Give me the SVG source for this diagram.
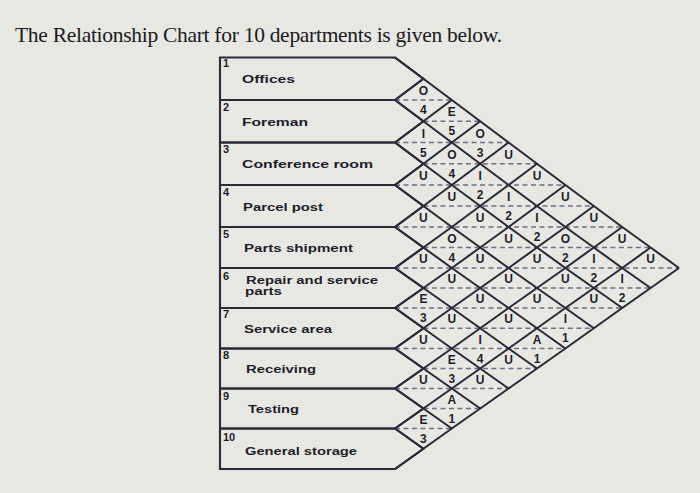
<svg xmlns="http://www.w3.org/2000/svg" width="700" height="493" viewBox="0 0 700 493">
<style>
.bg{fill:#e8e8e2}
.title{font-family:"Liberation Serif","Times New Roman",serif;font-size:21.5px;fill:#1a1a20}
.box{fill:none;stroke:#2a2a38;stroke-width:2.1;stroke-linejoin:miter}
.grid{fill:none;stroke:#2a2a38;stroke-width:2.1}
.dash{fill:none;stroke:#6e6e88;stroke-width:1.3;stroke-dasharray:5 3.5}
.num{font-family:"Liberation Sans",Arial,sans-serif;font-weight:bold;font-size:11px;fill:#1e1e2a}
.name{font-family:"Liberation Sans",Arial,sans-serif;font-weight:bold;font-size:11.5px;fill:#1e1e2a}
.l,.n{font-family:"Liberation Sans",Arial,sans-serif;font-weight:bold;font-size:12px;fill:#1e1e2a;text-anchor:middle}
</style>
<rect class="bg" x="0" y="0" width="700" height="493"/>
<text class="title" x="15" y="42" textLength="487">The Relationship Chart for 10 departments is given below.</text>

<g id="dept-1"><polygon class="box" points="220,57.5 395,57.5 423.4,78.75 395,100 220,100"/><text class="num" x="223" y="67">1</text><text class="name" x="242" y="83" textLength="53" lengthAdjust="spacingAndGlyphs">Offices</text></g>
<g id="dept-2"><polygon class="box" points="220,100 395,100 423.4,121.25 395,142.5 220,142.5"/><text class="num" x="223" y="111">2</text><text class="name" x="242" y="126" textLength="66" lengthAdjust="spacingAndGlyphs">Foreman</text></g>
<g id="dept-3"><polygon class="box" points="220,142.5 395,142.5 423.4,163.75 395,185 220,185"/><text class="num" x="223" y="153">3</text><text class="name" x="242" y="168" textLength="131" lengthAdjust="spacingAndGlyphs">Conference room</text></g>
<g id="dept-4"><polygon class="box" points="220,185 395,185 423.4,206 395,227 220,227"/><text class="num" x="223" y="196">4</text><text class="name" x="243" y="211" textLength="80" lengthAdjust="spacingAndGlyphs">Parcel post</text></g>
<g id="dept-5"><polygon class="box" points="220,227 395,227 423.4,247.5 395,268 220,268"/><text class="num" x="223" y="238">5</text><text class="name" x="244" y="252" textLength="109" lengthAdjust="spacingAndGlyphs">Parts shipment</text></g>
<g id="dept-6"><polygon class="box" points="220,268 395,268 423.4,288 395,308 220,308"/><text class="num" x="223" y="280">6</text><text class="name" x="246" y="284" textLength="132" lengthAdjust="spacingAndGlyphs">Repair and service</text><text class="name" x="245" y="295" textLength="37" lengthAdjust="spacingAndGlyphs">parts</text></g>
<g id="dept-7"><polygon class="box" points="220,308 395,308 423.4,328.25 395,348.5 220,348.5"/><text class="num" x="223" y="318">7</text><text class="name" x="244" y="333" textLength="88" lengthAdjust="spacingAndGlyphs">Service area</text></g>
<g id="dept-8"><polygon class="box" points="220,348.5 395,348.5 423.4,368.5 395,388.5 220,388.5"/><text class="num" x="223" y="359">8</text><text class="name" x="246" y="373" textLength="70" lengthAdjust="spacingAndGlyphs">Receiving</text></g>
<g id="dept-9"><polygon class="box" points="220,388.5 395,388.5 423.4,408.5 395,428.5 220,428.5"/><text class="num" x="223" y="400">9</text><text class="name" x="248" y="413" textLength="51" lengthAdjust="spacingAndGlyphs">Testing</text></g>
<g id="dept-10"><polygon class="box" points="220,428.5 395,428.5 423.4,448.75 395,469 220,469"/><text class="num" x="223" y="441">10</text><text class="name" x="245" y="455" textLength="112" lengthAdjust="spacingAndGlyphs">General storage</text></g>

<g id="connectors">
<path class="dash" d="M395 100H451.8M423.4 121.25H480.2M395 142.5H508.6M423.4 163.75H537M395 185H565.4M423.4 206H593.8M395 227H622.2M423.4 247.5H650.6M395 268H679M423.4 288H650.6M395 308H622.2M423.4 328.25H593.8M395 348.5H565.4M423.4 368.5H537M395 388.5H508.6M423.4 408.5H480.2M395 428.5H451.8"/>
<polyline class="grid" points="395,57.5 423.4,78.75 451.8,100 480.2,121.25 508.6,142.5 537,163.75 565.4,185 593.8,206 622.2,227 650.6,247.5 679,268"/>
<polyline class="grid" points="395,100 423.4,121.25 451.8,142.5 480.2,163.75 508.6,185 537,206 565.4,227 593.8,247.5 622.2,268 650.6,288"/>
<polyline class="grid" points="395,142.5 423.4,163.75 451.8,185 480.2,206 508.6,227 537,247.5 565.4,268 593.8,288 622.2,308"/>
<polyline class="grid" points="395,185 423.4,206 451.8,227 480.2,247.5 508.6,268 537,288 565.4,308 593.8,328.25"/>
<polyline class="grid" points="395,227 423.4,247.5 451.8,268 480.2,288 508.6,308 537,328.25 565.4,348.5"/>
<polyline class="grid" points="395,268 423.4,288 451.8,308 480.2,328.25 508.6,348.5 537,368.5"/>
<polyline class="grid" points="395,308 423.4,328.25 451.8,348.5 480.2,368.5 508.6,388.5"/>
<polyline class="grid" points="395,348.5 423.4,368.5 451.8,388.5 480.2,408.5"/>
<polyline class="grid" points="395,388.5 423.4,408.5 451.8,428.5"/>
<polyline class="grid" points="395,428.5 423.4,448.75"/>
<polyline class="grid" points="395,100 423.4,78.75"/>
<polyline class="grid" points="395,142.5 423.4,121.25 451.8,100"/>
<polyline class="grid" points="395,185 423.4,163.75 451.8,142.5 480.2,121.25"/>
<polyline class="grid" points="395,227 423.4,206 451.8,185 480.2,163.75 508.6,142.5"/>
<polyline class="grid" points="395,268 423.4,247.5 451.8,227 480.2,206 508.6,185 537,163.75"/>
<polyline class="grid" points="395,308 423.4,288 451.8,268 480.2,247.5 508.6,227 537,206 565.4,185"/>
<polyline class="grid" points="395,348.5 423.4,328.25 451.8,308 480.2,288 508.6,268 537,247.5 565.4,227 593.8,206"/>
<polyline class="grid" points="395,388.5 423.4,368.5 451.8,348.5 480.2,328.25 508.6,308 537,288 565.4,268 593.8,247.5 622.2,227"/>
<polyline class="grid" points="395,428.5 423.4,408.5 451.8,388.5 480.2,368.5 508.6,348.5 537,328.25 565.4,308 593.8,288 622.2,268 650.6,247.5"/>
<polyline class="grid" points="395,469 423.4,448.75 451.8,428.5 480.2,408.5 508.6,388.5 537,368.5 565.4,348.5 593.8,328.25 622.2,308 650.6,288 679,268"/>
</g>

<g id="ratings">
<g id="r1-2" transform="translate(423.4,100)"><text class="l" y="-5">O</text><text class="n" y="14">4</text></g>
<g id="r2-3" transform="translate(423.4,142.5)"><text class="l" y="-5">I</text><text class="n" y="14">5</text></g>
<g id="r3-4" transform="translate(423.4,185)"><text class="l" y="-5">U</text></g>
<g id="r4-5" transform="translate(423.4,227)"><text class="l" y="-5">U</text></g>
<g id="r5-6" transform="translate(423.4,268)"><text class="l" y="-5">U</text></g>
<g id="r6-7" transform="translate(423.4,308)"><text class="l" y="-5">E</text><text class="n" y="14">3</text></g>
<g id="r7-8" transform="translate(423.4,348.5)"><text class="l" y="-5">U</text></g>
<g id="r8-9" transform="translate(423.4,388.5)"><text class="l" y="-5">U</text></g>
<g id="r9-10" transform="translate(423.4,428.5)"><text class="l" y="-5">E</text><text class="n" y="14">3</text></g>

<g id="r1-3" transform="translate(451.8,121.25)"><text class="l" y="-5">E</text><text class="n" y="14">5</text></g>
<g id="r2-4" transform="translate(451.8,163.75)"><text class="l" y="-5">O</text><text class="n" y="14">4</text></g>
<g id="r3-5" transform="translate(451.8,206)"><text class="l" y="-5">U</text></g>
<g id="r4-6" transform="translate(451.8,247.5)"><text class="l" y="-5">O</text><text class="n" y="14">4</text></g>
<g id="r5-7" transform="translate(451.8,288)"><text class="l" y="-5">U</text></g>
<g id="r6-8" transform="translate(451.8,328.25)"><text class="l" y="-5">U</text></g>
<g id="r7-9" transform="translate(451.8,368.5)"><text class="l" y="-5">E</text><text class="n" y="14">3</text></g>
<g id="r8-10" transform="translate(451.8,408.5)"><text class="l" y="-5">A</text><text class="n" y="14">1</text></g>

<g id="r1-4" transform="translate(480.2,142.5)"><text class="l" y="-5">O</text><text class="n" y="14">3</text></g>
<g id="r2-5" transform="translate(480.2,185)"><text class="l" y="-5">I</text><text class="n" y="14">2</text></g>
<g id="r3-6" transform="translate(480.2,227)"><text class="l" y="-5">U</text></g>
<g id="r4-7" transform="translate(480.2,268)"><text class="l" y="-5">U</text></g>
<g id="r5-8" transform="translate(480.2,308)"><text class="l" y="-5">U</text></g>
<g id="r6-9" transform="translate(480.2,348.5)"><text class="l" y="-5">I</text><text class="n" y="14">4</text></g>
<g id="r7-10" transform="translate(480.2,388.5)"><text class="l" y="-5">U</text></g>

<g id="r1-5" transform="translate(508.6,163.75)"><text class="l" y="-5">U</text></g>
<g id="r2-6" transform="translate(508.6,206)"><text class="l" y="-5">I</text><text class="n" y="14">2</text></g>
<g id="r3-7" transform="translate(508.6,247.5)"><text class="l" y="-5">U</text></g>
<g id="r4-8" transform="translate(508.6,288)"><text class="l" y="-5">U</text></g>
<g id="r5-9" transform="translate(508.6,328.25)"><text class="l" y="-5">U</text></g>
<g id="r6-10" transform="translate(508.6,368.5)"><text class="l" y="-5">U</text></g>

<g id="r1-6" transform="translate(537,185)"><text class="l" y="-5">U</text></g>
<g id="r2-7" transform="translate(537,227)"><text class="l" y="-5">I</text><text class="n" y="14">2</text></g>
<g id="r3-8" transform="translate(537,268)"><text class="l" y="-5">U</text></g>
<g id="r4-9" transform="translate(537,308)"><text class="l" y="-5">U</text></g>
<g id="r5-10" transform="translate(537,348.5)"><text class="l" y="-5">A</text><text class="n" y="14">1</text></g>

<g id="r1-7" transform="translate(565.4,206)"><text class="l" y="-5">U</text></g>
<g id="r2-8" transform="translate(565.4,247.5)"><text class="l" y="-5">O</text><text class="n" y="14">2</text></g>
<g id="r3-9" transform="translate(565.4,288)"><text class="l" y="-5">U</text></g>
<g id="r4-10" transform="translate(565.4,328.25)"><text class="l" y="-5">I</text><text class="n" y="14">1</text></g>

<g id="r1-8" transform="translate(593.8,227)"><text class="l" y="-5">U</text></g>
<g id="r2-9" transform="translate(593.8,268)"><text class="l" y="-5">I</text><text class="n" y="14">2</text></g>
<g id="r3-10" transform="translate(593.8,308)"><text class="l" y="-5">U</text></g>

<g id="r1-9" transform="translate(622.2,247.5)"><text class="l" y="-5">U</text></g>
<g id="r2-10" transform="translate(622.2,288)"><text class="l" y="-5">I</text><text class="n" y="14">2</text></g>

<g id="r1-10" transform="translate(650.6,268)"><text class="l" y="-5">U</text></g>
</g>
</svg>
